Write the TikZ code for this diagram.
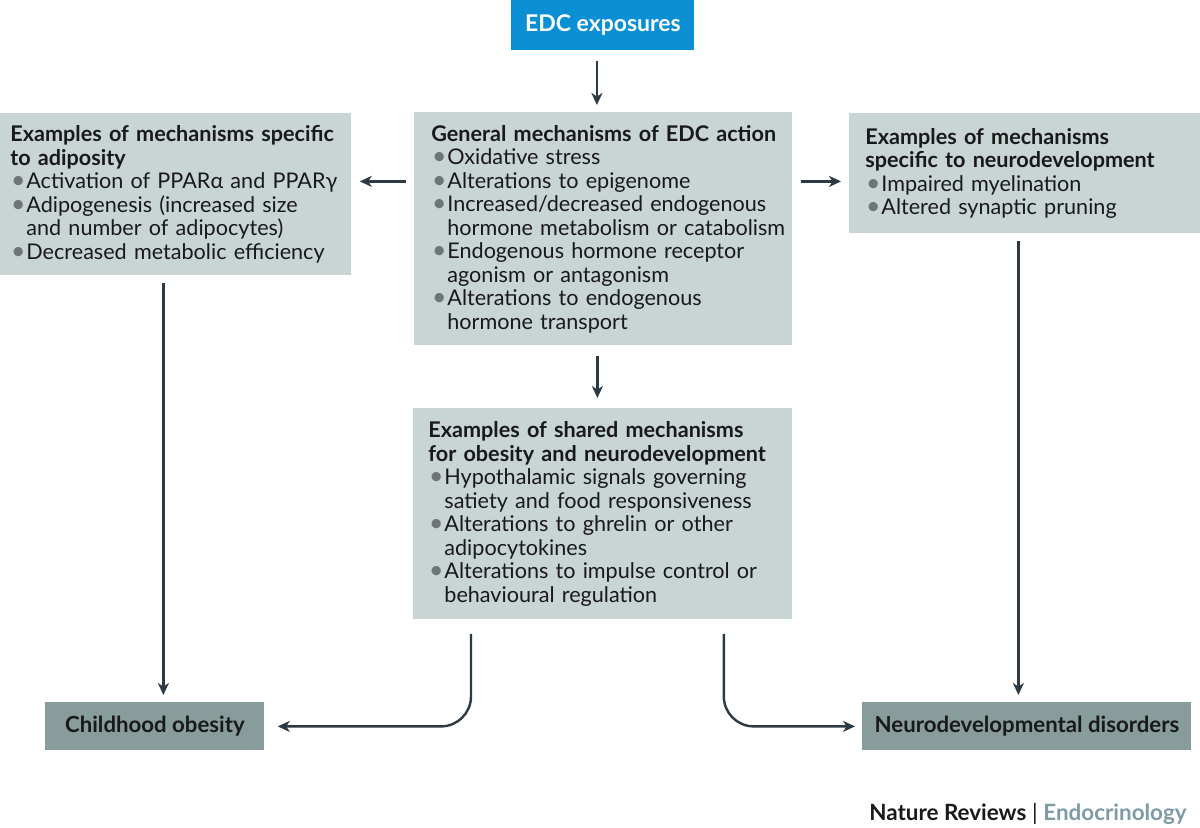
\documentclass[tikz,border=0pt]{standalone}
\usepackage{fontspec}
\setmainfont{Lato}
\usepackage{xcolor}
\usepackage{tikz}
\usetikzlibrary{arrows.meta,positioning}
\definecolor{edcblue}{HTML}{0A8FD5}
\definecolor{boxgrey}{HTML}{C9D4D4}
\definecolor{outgrey}{HTML}{889C9B}
\definecolor{linedark}{HTML}{2B3A44}
\definecolor{dotgrey}{HTML}{6E7575}
\definecolor{endoblue}{HTML}{7E9AA6}
\newcommand{\blt}{\makebox[8pt][l]{\hspace{0.3pt}\textcolor{dotgrey}{\scalebox{1.15}{\textbullet}}}}
\newcommand{\hd}[1]{\mbox{\textbf{#1}}}
\newcommand{\itm}[1]{\mbox{\blt#1}}
\newcommand{\more}[1]{\mbox{\hspace*{8pt}#1}}

\begin{document}
\begin{tikzpicture}[x=0.5pt, y=-0.5pt,
		every node/.style={font=\fontsize{10.8}{11.75}\selectfont, text=black!90},
		mech/.style={fill=boxgrey, anchor=north west, align=left, inner ysep=0pt},
		outcome/.style={fill=outgrey, font=\fontsize{11.1}{12}\selectfont\bfseries, minimum height=24pt, anchor=north west},
		arr/.style={draw=linedark, line width=1.2pt, -{Stealth[length=6pt,width=5.5pt,inset=1.8pt]}, shorten <=4pt, shorten >=4pt}]
				\useasboundingbox (0,0) rectangle (1200,828);

				\node[fill=edcblue, text=white, font=\fontsize{11.5}{13}\selectfont\bfseries, minimum width=91.5pt, minimum height=25pt, anchor=north west] (edc) at (511,0) {EDC exposures};

				\node[mech, text width=172pt, inner xsep=8.5pt, minimum height=116.5pt] (general) at (414,112) {\hd{General mechanisms of EDC action}\\
					\itm{Oxidative stress}\\
					\itm{Alterations to epigenome}\\
					\itm{Increased/decreased endogenous}\\
					\more{hormone metabolism or catabolism}\\
					\itm{Endogenous hormone receptor}\\
					\more{agonism or antagonism}\\
					\itm{Alterations to endogenous}\\
					\more{hormone transport}};

				\node[mech, text width=165.5pt, inner xsep=5pt, minimum height=81pt] (adipo) at (0,113) {\hd{Examples of mechanisms specific}\\
					\hd{to adiposity}\\
					\itm{Activation of PPARα and PPARγ}\\
					\itm{Adipogenesis (increased size}\\
					\more{and number of adipocytes)}\\
					\itm{Decreased metabolic efficiency}};

				\node[mech, text width=159.5pt, inner xsep=8pt, minimum height=60pt] (neurodev) at (849,113) {\hd{Examples of mechanisms}\\
					\hd{specific to neurodevelopment}\\
					\itm{Impaired myelination}\\
					\itm{Altered synaptic pruning}};

				\node[mech, text width=174.5pt, inner xsep=7.5pt, minimum height=105.5pt] (shared) at (413,408) {\hd{Examples of shared mechanisms}\\
					\hd{for obesity and neurodevelopment}\\
					\itm{Hypothalamic signals governing}\\
					\more{satiety and food responsiveness}\\
					\itm{Alterations to ghrelin or other}\\
					\more{adipocytokines}\\
					\itm{Alterations to impulse control or}\\
					\more{behavioural regulation}};

				\node[outcome, minimum width=109.5pt] (obesity) at (45,702) {Childhood obesity};
				\node[outcome, minimum width=164.5pt] (disorders) at (862,702) {Neurodevelopmental disorders};

				\node[anchor=base east, inner sep=0pt, font=\fontsize{11.2}{12}\selectfont] (credit) at (1187,820) {\textbf{Nature Reviews} | \textcolor{endoblue}{\textbf{Endocrinology}}};

				\draw[arr, shorten <=5pt, shorten >=3.5pt] ([xshift=-3pt]edc.south) -- ([xshift=-3pt]edc.south |- general.north);
				\draw[arr] ([yshift=23.75pt]general.west) -- ([yshift=23.75pt]general.west -| adipo.east);
				\draw[arr] ([yshift=23.75pt]general.east) -- ([yshift=23.75pt]general.east -| neurodev.west);
				\draw[arr, shorten <=5pt, shorten >=5pt] ([xshift=-3pt]general.south) -- ([xshift=-3pt]general.south |- shared.north);
				\draw[arr, shorten <=3.5pt, shorten >=3.5pt] ([xshift=-6.25pt]adipo.south) -- ([xshift=-6.25pt]adipo.south |- obesity.north);
				\draw[arr, shorten <=3.5pt, shorten >=3.5pt] ([xshift=-3.25pt]neurodev.south) -- ([xshift=-3.25pt]neurodev.south |- disorders.north);
				\draw[arr, rounded corners=15pt, shorten <=7pt, shorten >=6.5pt] ([xshift=29pt]shared.south west) |- (obesity.east);
				\draw[arr, rounded corners=15pt, shorten <=7pt, shorten >=3.5pt] ([xshift=-34.5pt]shared.south east) |- (disorders.west);
			\end{tikzpicture}
\end{document}
